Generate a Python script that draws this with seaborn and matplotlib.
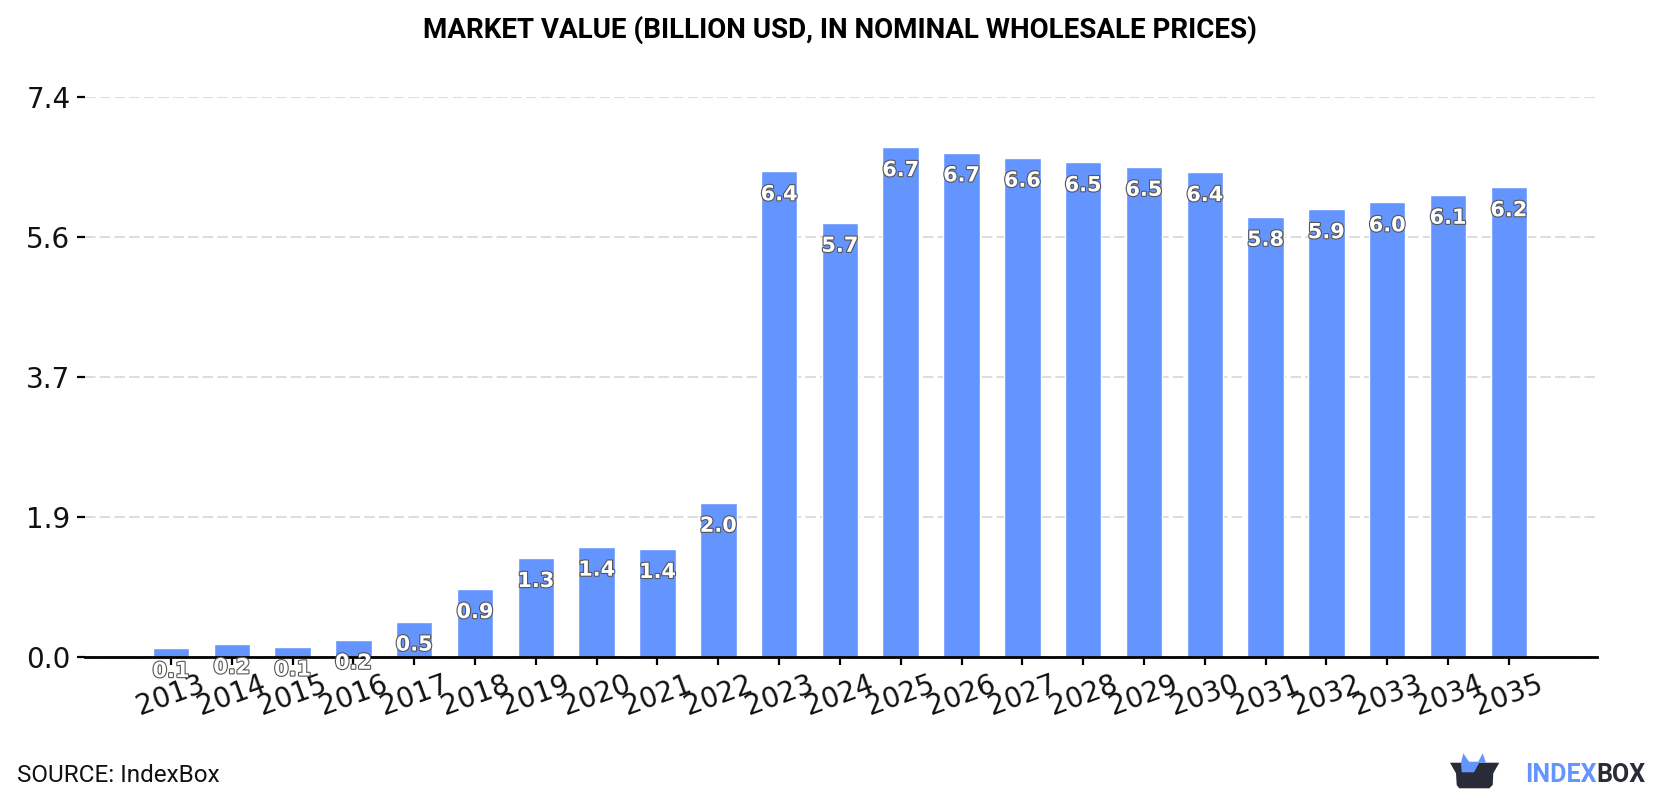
import matplotlib
matplotlib.use("Agg")
import matplotlib.pyplot as plt
import matplotlib.patheffects as pe
from matplotlib.patches import Polygon
import pandas as pd
import seaborn as sns

years = [2013, 2014, 2015, 2016, 2017, 2018, 2019, 2020, 2021, 2022, 2023, 2024,
         2025, 2026, 2027, 2028, 2029, 2030, 2031, 2032, 2033, 2034, 2035]
market_value = [0.11, 0.16, 0.13, 0.22, 0.46, 0.89, 1.30, 1.45, 1.42, 2.03, 6.41, 5.73,
                6.73, 6.66, 6.59, 6.53, 6.47, 6.40, 5.81, 5.91, 6.00, 6.10, 6.20]
y_ticks = [0, 1.85, 3.7, 5.55, 7.4]
y_tick_labels = ["0.0", "1.9", "3.7", "5.6", "7.4"]
title = "MARKET VALUE (BILLION USD, IN NOMINAL WHOLESALE PRICES)"
source = "SOURCE: IndexBox"

BLUE = "#6495ff"
DARK = "#2a2b38"
W, H = 1680, 800

sns.set_theme(style="white")
plt.rcParams["font.family"] = ["DejaVu Sans"]

df = pd.DataFrame({"year": [str(y) for y in years], "value": market_value})

fig = plt.figure(figsize=(W / 100, H / 100), dpi=100, facecolor="white")
ax = fig.add_axes([85 / W, (H - 656.5) / H, (1597 - 85) / W, 560 / H])

sns.barplot(data=df, x="year", y="value", color=BLUE, width=0.6, saturation=1, ax=ax, zorder=2)

ax.set_xlim(-1.414, 23.45)
ax.set_ylim(0, 7.4)
ax.set_xlabel("")
ax.set_ylabel("")
ax.set_yticks(y_ticks, y_tick_labels)
ax.yaxis.grid(True, color="#dddddd", linewidth=1.45, linestyle=(0, (5.2, 2.1)), zorder=0)
ax.set_axisbelow(True)
ax.xaxis.grid(False)

for side in ["top", "left", "right"]:
    ax.spines[side].set_visible(False)
ax.spines["bottom"].set_color("black")
ax.spines["bottom"].set_linewidth(2)
ax.spines["bottom"].set_zorder(3)

ax.tick_params(axis="y", length=5.5, width=1.6, color="black", labelsize=20, labelcolor="#111111", pad=5, left=True)
ax.tick_params(axis="x", length=5.5, width=1.6, color="black", labelsize=20, labelcolor="#111111", pad=4, rotation=20, bottom=True)

# Value labels sit a fixed distance below each bar's top.
for i, v in enumerate(market_value):
    ax.annotate(f"{v:.1f}", xy=(i, v), xytext=(0, -16.5), textcoords="offset points",
                ha="center", va="center", fontsize=15, fontweight="bold", color="white",
                annotation_clip=False, zorder=6,
                path_effects=[pe.withStroke(linewidth=1.6, foreground="#555555")])

# Overlay in pixel coordinates for the heading, source line and brand mark.
over = fig.add_axes([0, 0, 1, 1], facecolor="none")
over.set_xlim(0, W)
over.set_ylim(H, 0)
over.axis("off")

over.text(840, 30, title, ha="center", va="center", fontsize=20, fontweight="bold",
          family="Roboto", color="black")
over.text(17, 776, source, ha="left", va="center", fontsize=17.5, family="Roboto", color="#111111")

box = [(1450, 762.7), (1499.3, 762.7), (1493.3, 773.3), (1492.7, 785), (1489.3, 788.3),
       (1459.3, 788.3), (1456.7, 785), (1456, 773.3)]
crown = [(1461, 762.7), (1463.3, 753.3), (1469, 761.7), (1478.3, 761.7), (1482.7, 753.3),
         (1486, 762.7), (1479.3, 762.7), (1474, 772.3), (1461.7, 772.3)]
over.add_patch(Polygon(box, closed=True, facecolor=DARK, edgecolor="none"))
over.add_patch(Polygon(crown, closed=True, facecolor=BLUE, edgecolor="none"))
over.text(1596.7, 782.3, "INDEX", ha="right", va="baseline", fontsize=18, fontweight="bold",
          family="Roboto", color=BLUE)
over.text(1596.7, 782.3, "BOX", ha="left", va="baseline", fontsize=18, fontweight="bold",
          family="Roboto", color=DARK)

fig.savefig("out.png", dpi=100, facecolor="white")
